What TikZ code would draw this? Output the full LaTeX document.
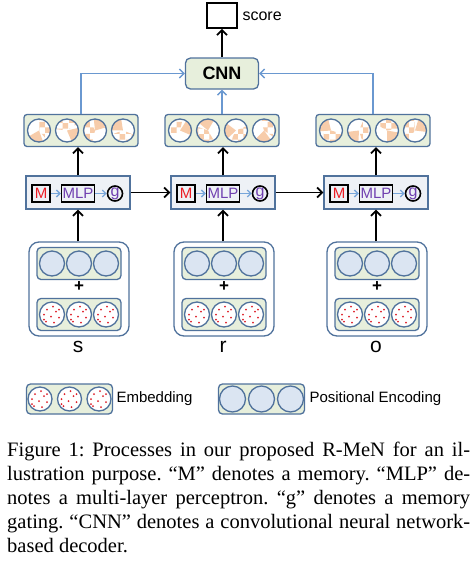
\documentclass[tikz,border=0pt]{standalone}
\usepackage{fontspec}
\setmainfont{Liberation Serif}
\setsansfont{Liberation Sans}
\usetikzlibrary{arrows.meta,patterns}

\definecolor{frameblue}{RGB}{80,114,156}
\definecolor{linkblue}{RGB}{106,152,208}
\definecolor{paleblue}{RGB}{120,166,218}
\definecolor{greenfill}{RGB}{231,239,220}
\definecolor{procfill}{RGB}{238,241,246}
\definecolor{posfill}{RGB}{219,229,242}
\definecolor{peach}{RGB}{247,204,170}
\definecolor{dotred}{RGB}{222,30,40}
\definecolor{memred}{RGB}{236,28,36}
\definecolor{mlpviolet}{RGB}{112,64,176}

\tikzset{
	framed/.style = {draw = frameblue, line width = 1.3pt},
	vecbox/.style = {framed, fill = greenfill, rounded corners = 3pt,
		minimum width = 114pt, minimum height = 32pt},
	procbox/.style = {framed, fill = procfill, minimum width = 104pt,
		minimum height = 33pt},
	inbox/.style = {framed, fill = white, rounded corners = 10pt,
		minimum width = 100pt, minimum height = 94pt},
	rowbox/.style = {framed, fill = greenfill, rounded corners = 4pt,
		minimum width = 84pt, minimum height = 32pt},
	legbox/.style = {framed, fill = greenfill, rounded corners = 4pt,
		minimum width = 86pt, minimum height = 30pt},
	cnnbox/.style = {framed, fill = greenfill, rounded corners = 5pt,
		minimum width = 73pt, minimum height = 31pt,
		font = \sffamily\bfseries\fontsize{18}{20}\selectfont},
	ball/.style = {draw = frameblue, line width = 1.3pt},
	flow/.style = {-{Straight Barb[length = 5pt, width = 10pt]},
		line width = 1.8pt},
	feed/.style = {-{Straight Barb[length = 4.5pt, width = 9pt]},
		line width = 1.4pt, draw = linkblue},
	inward/.style = {-{Straight Barb[length = 3.5pt, width = 7pt]},
		line width = 1.3pt, draw = paleblue},
	memcell/.style = {draw, line width = 1.5pt, inner sep = 1pt,
		minimum height = 17pt, font = \sffamily\fontsize{15}{15}\selectfont},
	gatecell/.style = {circle, draw, line width = 1.6pt, inner sep = 0pt,
		minimum size = 15pt, text = mlpviolet,
		font = \sffamily\fontsize{16}{16}\selectfont}
}

\begin{document}
\begin{tikzpicture}[x = 1pt, y = -1pt, font = \sffamily]
\useasboundingbox (0,0) rectangle (474,566);

% decoder and score
\node [draw, line width = 1.5pt, minimum width = 30pt, minimum height = 25pt]
	(score) at (222,15.5) {};
\node [anchor = west, font = \sffamily\fontsize{16}{18}\selectfont]
	(scorelabel) at (239,16) {score};
\node [cnnbox] (cnn) at (222,73.5) {CNN};
\draw [flow] (cnn) -- (score);

% memory outputs
\foreach \i/\tx in {1/81, 2/222, 3/373} {
	\node [vecbox] (top\i) at (\tx,130.5) {};
	\foreach \k in {1,...,4} {
		\pgfmathsetmacro\ang{mod(83*\k+127*\i,360)}
		\coordinate (c) at (\tx+28*\k-70,130.5);
		\fill [white] (c) circle (11.5pt);
		\fill [pattern = checkerboard, pattern color = peach] (c) --
			++(\ang+100:11.5pt) arc [start angle = \ang+100,
			end angle = \ang+240, radius = 11.5pt] -- cycle;
		\fill [peach] (c) -- ++(\ang:11.5pt) arc [start angle = \ang,
			end angle = \ang+80, radius = 11.5pt] -- cycle;
		\draw [ball] (c) circle (11.5pt);
	}
}
\draw [feed] (top1.north) |- (cnn.west);
\draw [feed] (top3.north) |- (cnn.east);
\draw [feed] (top2.north) -- (cnn.south);

% processing steps and inputs
\foreach \i/\cx/\word in {1/78/s, 2/223/r, 3/376/o} {
	\node [procbox] (proc\i) at (\cx,192.5) {};
	\node [memcell, text = memred, minimum width = 18pt] (mem\i)
		at (\cx-37,193.5) {M};
	\node [memcell, text = mlpviolet, minimum width = 31pt] (mlp\i)
		at (\cx,193.5) {MLP};
	\node [gatecell] (gate\i) at (\cx+37,193.5) {g};
	\draw [inward] (mem\i) -- (mlp\i);
	\draw [inward] (mlp\i) -- (gate\i);
	\draw [flow] (proc\i.north) -- (proc\i.north |- top\i.south);

	\node [inbox] (in\i) at (\cx+1,289) {};
	\node [rowbox] (pos\i) at (\cx+1,263.5) {};
	\foreach \dx in {-27,0,27}
		\draw [ball, fill = posfill] (\cx+1+\dx,263.5) circle (12.5pt);
	\node [font = \sffamily\bfseries\fontsize{17}{17}\selectfont]
		(plus\i) at (\cx+1,286.5) {+};
	\node [rowbox] (emb\i) at (\cx+1,314.5) {};
	\foreach \dx in {-27,0,27} {
		\coordinate (c) at (\cx+1+\dx,314.5);
		\draw [ball, fill = white] (c) circle (12.5pt);
		\foreach \px/\py in {-6/-7, 2/-8, 7/-3, -8/0, -1/-2, 4/3,
			-5/5, 1/8, 7/5, -8/-5}
			\fill [dotred] ([shift = {(\px pt,\py pt)}]c) circle (1pt);
	}
	\draw [flow] (proc\i.south |- in\i.north) -- (proc\i.south);
	\node [font = \sffamily\fontsize{21}{22}\selectfont] (word\i)
		at (\cx,347) {\word};
}
\draw [flow] (proc1) -- (proc2);
\draw [flow] (proc2) -- (proc3);

% legend
\node [legbox] (legemb) at (69.5,399) {};
\foreach \dx in {-29.5,0,29.5} {
	\coordinate (c) at (69.5+\dx,399);
	\draw [ball, fill = white] (c) circle (12pt);
	\foreach \px/\py in {-6/-7, 2/-8, 7/-3, -8/0, -1/-2, 4/3,
		-5/5, 1/8, 7/5, -8/-5}
		\fill [dotred] ([shift = {(\px pt,\py pt)}]c) circle (1pt);
}
\node [anchor = west, font = \sffamily\fontsize{15}{17}\selectfont]
	(legembtext) at (113,399) {Embedding};
\node [legbox] (legpos) at (261.5,399) {};
\foreach \dx in {-29,0,29}
	\draw [ball, fill = posfill] (261.5+\dx,399) circle (13pt);
\node [anchor = west, font = \sffamily\fontsize{15}{17}\selectfont]
	(legpostext) at (306,399) {Positional Encoding};

% caption
\node [anchor = base west, text width = 463pt, align = justify,
	inner sep = 0pt, font = \rmfamily\fontsize{20.5}{24}\selectfont\frenchspacing]
	(caption) at (7,456)
{Figure 1: Processes in our proposed R-MeN for an il-\linebreak
	lustration purpose. “M” denotes a memory. “MLP” de-\linebreak
	notes a multi-layer perceptron. “g” denotes a memory\linebreak
	gating. “CNN” denotes a convolutional neural network-\linebreak
	based decoder.};
\end{tikzpicture}
\end{document}
